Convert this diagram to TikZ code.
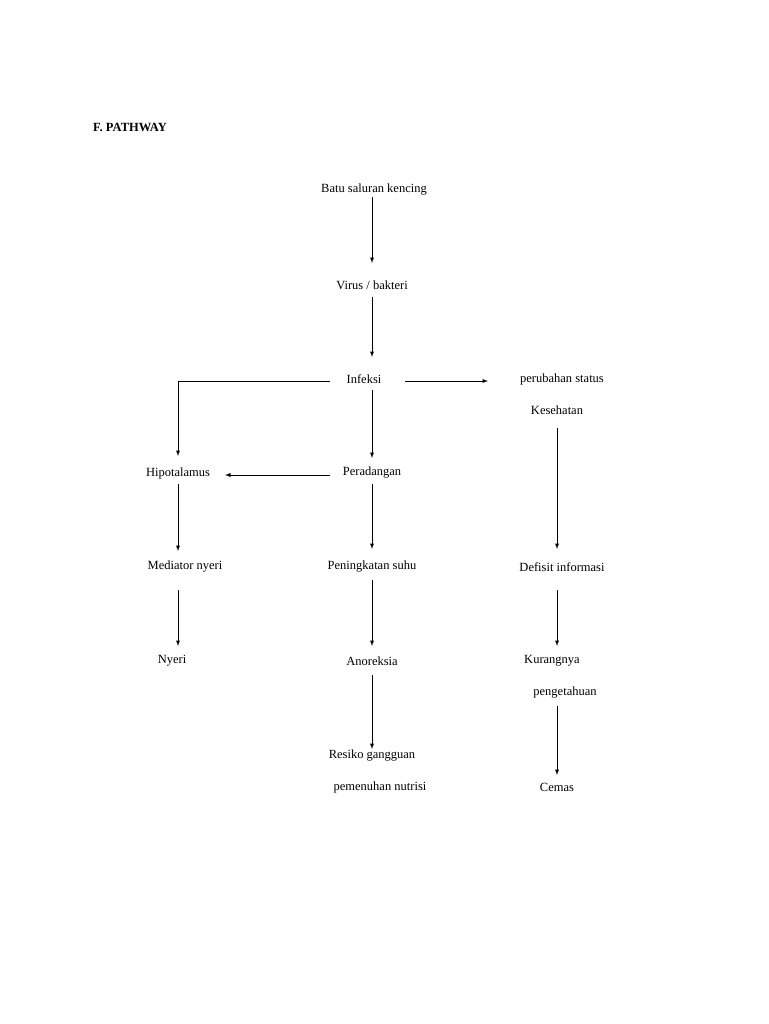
\documentclass[tikz,border=0pt]{standalone}
\usepackage{fontspec}
\setmainfont{Liberation Serif}
\begin{document}
\begin{tikzpicture}[x=1pt,y=-1pt,
  lbl/.style={inner sep=1pt,font=\fontsize{12.5}{14}\selectfont},
  arr/.style={->,>=latex,line width=0.9pt}]
\useasboundingbox (0,0) rectangle (768,1024);
\node[lbl,anchor=west,font=\fontsize{12.5}{14}\selectfont\bfseries] (title) at (92,127) {F. PATHWAY};
\node[lbl] (batu) at (374,190) {Batu saluran kencing};
\node[lbl] (virus) at (372,285) {Virus / bakteri};
\node[lbl] (inf) at (364,379) {Infeksi};
\node[lbl] (pst) at (562,379) {perubahan status};
\node[lbl] (kes) at (557,410) {Kesehatan};
\node[lbl] (hip) at (178,473) {Hipotalamus};
\node[lbl] (per) at (372,473) {Peradangan};
\node[lbl] (med) at (185,567) {Mediator nyeri};
\node[lbl] (suhu) at (372,567) {Peningkatan suhu};
\node[lbl] (def) at (562,567) {Defisit informasi};
\node[lbl] (nye) at (172,661) {Nyeri};
\node[lbl] (ano) at (372,661) {Anoreksia};
\node[lbl] (kur) at (552,661) {Kurangnya};
\node[lbl] (pen) at (565,693) {pengetahuan};
\node[lbl] (res) at (372,756) {Resiko gangguan};
\node[lbl] (nut) at (380,787) {pemenuhan nutrisi};
\node[lbl] (cem) at (557,787) {Cemas};
\coordinate (a1) at (372,197); \coordinate (b1) at (372,263);
\coordinate (a2) at (372,297); \coordinate (b2) at (372,357);
\coordinate (a3) at (372,390); \coordinate (b3) at (372,458);
\coordinate (a4) at (330,381); \coordinate (c4) at (178,381); \coordinate (b4) at (178,456);
\coordinate (a5) at (405,381); \coordinate (b5) at (488,381);
\coordinate (a6) at (557,428); \coordinate (b6) at (557,549);
\coordinate (a7) at (330,475); \coordinate (b7) at (225,475);
\coordinate (a8) at (178,484); \coordinate (b8) at (178,551);
\coordinate (a9) at (372,484); \coordinate (b9) at (372,549);
\coordinate (a10) at (178,590); \coordinate (b10) at (178,646);
\coordinate (a11) at (372,580); \coordinate (b11) at (372,646);
\coordinate (a12) at (557,590); \coordinate (b12) at (557,646);
\coordinate (a13) at (372,675); \coordinate (b13) at (372,749);
\coordinate (a14) at (557,706); \coordinate (b14) at (557,775);
\draw[arr] (a1) -- (b1);
\draw[arr] (a2) -- (b2);
\draw[arr] (a3) -- (b3);
\draw[arr] (a4) -- (c4) -- (b4);
\draw[arr] (a5) -- (b5);
\draw[arr] (a6) -- (b6);
\draw[arr] (a7) -- (b7);
\draw[arr] (a8) -- (b8);
\draw[arr] (a9) -- (b9);
\draw[arr] (a10) -- (b10);
\draw[arr] (a11) -- (b11);
\draw[arr] (a12) -- (b12);
\draw[arr] (a13) -- (b13);
\draw[arr] (a14) -- (b14);
\end{tikzpicture}
\end{document}
